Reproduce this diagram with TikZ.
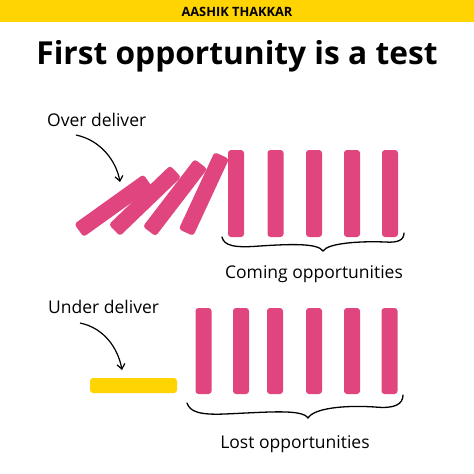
\documentclass[tikz,border=0pt]{standalone}
\usepackage{fontspec}
\setmainfont{Open Sans}
\usetikzlibrary{arrows.meta}
\definecolor{pinkbar}{RGB}{224,69,127}
\definecolor{band}{RGB}{255,212,0}
\tikzset{
  bar/.style={rectangle, fill=pinkbar, rounded corners=3pt, inner sep=0pt, minimum width=16pt, minimum height=87pt},
  domino/.style={rectangle, fill=pinkbar, rounded corners=3pt, inner sep=0pt, minimum width=85pt, minimum height=16pt},
  flat/.style={rectangle, fill=band, rounded corners=3pt, inner sep=0pt, minimum width=87pt, minimum height=15pt},
  lbl/.style={inner sep=0pt, font=\fontsize{17.5}{20}\selectfont},
  pointer/.style={line width=1.2pt, -{Straight Barb[length=5pt,width=8pt]}},
  brace/.style={line width=1.3pt, line cap=round}
}
\begin{document}
\begin{tikzpicture}[x=1pt,y=-1pt]
\useasboundingbox (0,0) rectangle (474,474);
\fill[white] (0,0) rectangle (474,474);
\fill[band] (0,0) rectangle (474,22);
\node[inner sep=0pt, anchor=base, font=\fontsize{12.8}{14}\selectfont\bfseries] (author) at (237,16) {AASHIK THAKKAR};
\node[inner sep=0pt, anchor=base, font=\fontsize{31.7}{34}\selectfont\bfseries] (title) at (237,64) {First opportunity is a test};

% top section
\node[lbl, anchor=base west] (over) at (47,126) {Over deliver};
\node[domino, rotate=35.6] (d1) at (113.5,205.7) {};
\node[domino, rotate=43.9] (d2) at (145,200.8) {};
\node[domino, rotate=52.5] (d3) at (175.1,197.7) {};
\node[domino, rotate=65.1] (d4) at (203.9,194) {};
\node[bar] (t1) at (236,193.5) {};
\node[bar] (t2) at (275.5,193.5) {};
\node[bar] (t3) at (314,193.5) {};
\node[bar] (t4) at (352,193.5) {};
\node[bar] (t5) at (390,193.5) {};
\coordinate (a1s) at (76,135);
\coordinate (a1e) at (120,182);
\draw[pointer] (a1s) .. controls (100,140) and (116,160) .. (a1e);
\coordinate (b1l) at (222,237);
\coordinate (b1m) at (323,251);
\coordinate (b1r) at (404,233);
\draw[brace] (b1l) .. controls (224,246) and (235,248) .. (260,246)
  .. controls (290,244) and (318,243) .. (b1m)
  .. controls (328,243) and (360,241) .. (385,242)
  .. controls (398,243) and (404,240) .. (b1r);
\node[lbl, anchor=base] (coming) at (314,278) {Coming opportunities};

% bottom section
\node[lbl, anchor=base west] (under) at (48,313) {Under deliver};
\node[flat] (f1) at (133.5,385.5) {};
\node[bar, minimum height=86pt] (u1) at (203.5,351) {};
\node[bar, minimum height=86pt] (u2) at (241,351) {};
\node[bar, minimum height=86pt] (u3) at (275,351) {};
\node[bar, minimum height=86pt] (u4) at (314,351) {};
\node[bar, minimum height=86pt] (u5) at (352,351) {};
\node[bar, minimum height=86pt] (u6) at (389.5,351) {};
\coordinate (a2s) at (80,323);
\coordinate (a2e) at (122,370);
\draw[pointer] (a2s) .. controls (104,328) and (118,348) .. (a2e);
\coordinate (b2l) at (187,403);
\coordinate (b2m) at (308,418);
\coordinate (b2r) at (403,395);
\draw[brace] (b2l) .. controls (190,412) and (200,415) .. (225,414)
  .. controls (270,412) and (302,409) .. (b2m)
  .. controls (314,408) and (345,405) .. (375,407)
  .. controls (395,409) and (403,404) .. (b2r);
\node[lbl, anchor=base] (lost) at (295,448) {Lost opportunities};
\end{tikzpicture}
\end{document}
